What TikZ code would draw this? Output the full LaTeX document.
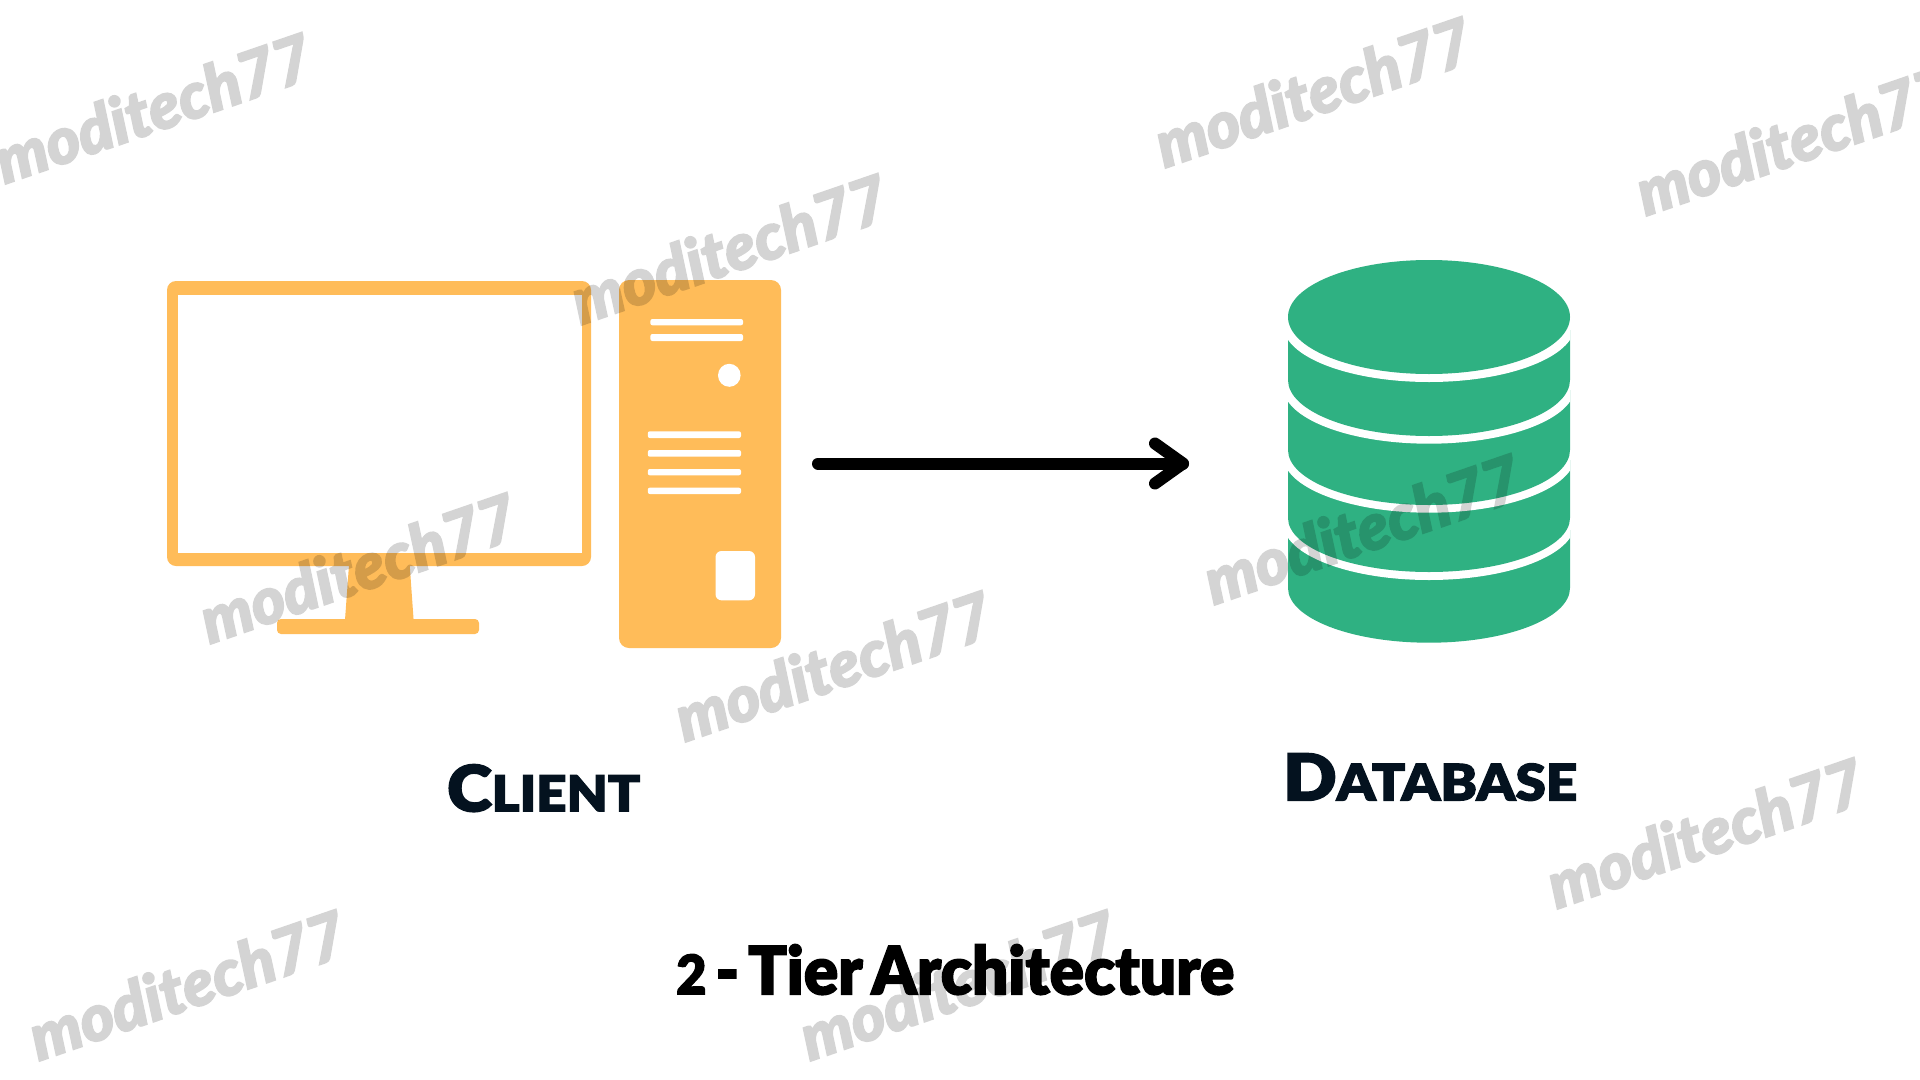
\documentclass[tikz,border=0pt]{standalone}
\usepackage{fontspec}
\usepackage{graphicx}
\usetikzlibrary{arrows.meta}
\newfontfamily\heavyfont[FakeBold=2.2,WordSpace=0.6]{Lato Black}
\newfontfamily\markfont[ItalicFont={Lato Black Italic},ItalicFeatures={FakeBold=3}]{Lato Black}
\newdimen\pxu \pxu=0.5mm
\definecolor{orangeicon}{HTML}{FFBC59}
\definecolor{greenicon}{HTML}{2FB182}
\definecolor{navytext}{HTML}{04121F}
\newcommand{\capsize}[1]{\scalebox{0.78}{#1}}
\tikzset{
  px/.style={x=\pxu,y=-\pxu},
  orangefill/.style={fill=orangeicon,draw=none},
  whitefill/.style={fill=white,draw=none},
  greenfill/.style={fill=greenicon,draw=none},
  slot/.style={fill=white,draw=none,rounded corners=2\pxu},
  wm/.style={inner sep=0pt,rotate=19,text=black,font=\markfont\itshape},
  label/.style={inner sep=0pt,anchor=south west,font=\heavyfont},
}
\begin{document}
\begin{tikzpicture}[px]
\useasboundingbox (0,0) rectangle (1920,1080);
\fill[white] (0,0) rectangle (1920,1080);
% monitor
\fill[orangefill,rounded corners=9\pxu] (167,281) rectangle (591,566);
\fill[whitefill] (177.5,295) rectangle (581.5,552.7);
\fill[orangefill] (349,565) -- (409.7,565) -- (413.6,620) -- (345,620) -- cycle;
\fill[orangefill,rounded corners=4\pxu] (277,619) rectangle (479,634);
% tower
\fill[orangefill,rounded corners=10\pxu] (619,280) rectangle (781,648);
\coordinate (towerright) at (818,463.5);
\foreach \a/\b/\ya/\yb in {650.4/743/319/325.3, 650.4/743/334/341, 647.8/741/431.3/438, 647.8/741/450/456.7, 647.8/741/469/475.3, 647.8/741/487.7/494}{
  \fill[slot] (\a,\ya) rectangle (\b,\yb);
}
\fill[whitefill] (729.3,375.3) circle[x radius=11.3,y radius=11.5];
\fill[whitefill,rounded corners=6\pxu] (715.5,551) rectangle (755,600.3);
% database
\begin{scope}
\clip (1288,250) rectangle (1570,650);
\fill[greenfill] (1288,530) -- (1288,588) arc[start angle=180,end angle=360,x radius=141,y radius=-54.7] -- (1570,530) -- cycle;
\fill[whitefill] (1429,523) ellipse[x radius=146,y radius=57];
\fill[greenfill] (1288,460) -- (1288,518) arc[start angle=180,end angle=360,x radius=141,y radius=-54] -- (1570,460) -- cycle;
\fill[whitefill] (1429,455.7) ellipse[x radius=146,y radius=57];
\fill[greenfill] (1288,390) -- (1288,450) arc[start angle=180,end angle=360,x radius=141,y radius=-55] -- (1570,390) -- cycle;
\fill[whitefill] (1429,386.7) ellipse[x radius=146,y radius=57];
\fill[greenfill] (1288,330) -- (1288,380) arc[start angle=180,end angle=360,x radius=141,y radius=-56] -- (1570,330) -- cycle;
\fill[whitefill] (1429,325) ellipse[x radius=146,y radius=57];
\fill[greenfill] (1429,317) ellipse[x radius=141,y radius=57];
\end{scope}
\coordinate (dbleft) at (1183,463.5);
% arrow
\draw[line width=12\pxu,line cap=round,line join=round] (towerright) -- (dbleft);
\draw[line width=12\pxu,line cap=round,line join=round] ([shift={(-28,-20)}]dbleft) -- (dbleft) -- ([shift={(-28,20)}]dbleft);
% watermarks
\begin{scope}[transparency group,opacity=0.17]
\foreach \n/\cx/\cy in {a/153/108,b/1313/92,c/1794/140,d/729/249,e/358/568,f/1362/529,g/833/666,h/1705/833,i/187/985,j/958/985}{
  \node[wm] (wm\n) at (\cx,\cy) {\resizebox{330\pxu}{!}{moditech77}};
}
\end{scope}
% labels
\node[label,text=navytext] (client) at (447,812) {\resizebox{193\pxu}{47\pxu}{C\capsize{LIENT}}};
\node[label,text=navytext] (database) at (1283,801) {\resizebox{294\pxu}{47\pxu}{D\capsize{ATABASE}}};
\node[label,text=black] (title) at (676,995) {\resizebox{558\pxu}{50\pxu}{\scalebox{0.82}{2} - Tier Architecture}};
\end{tikzpicture}
\end{document}
